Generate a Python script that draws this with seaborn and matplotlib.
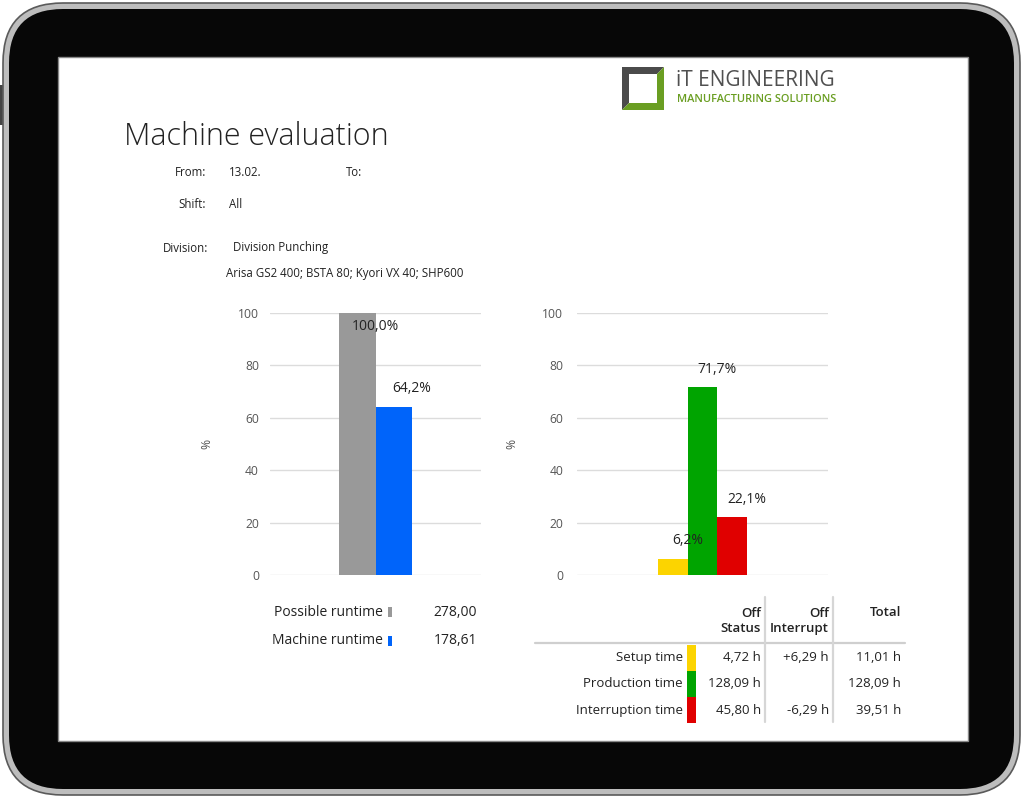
import numpy as np
import pandas as pd
import matplotlib
matplotlib.use("Agg")
import matplotlib.pyplot as plt
import seaborn as sns
from matplotlib.patches import FancyBboxPatch, Rectangle, Polygon

# Left chart: runtime share
runtime_labels = ["Possible runtime", "Machine runtime"]
runtime_pct = [100.0, 64.2]
runtime_hours = [278.00, 178.61]
runtime_colors = ["#999999", "#0064fa"]

# Right chart: split of machine time
time_labels = ["Setup time", "Production time", "Interruption time"]
time_pct = [6.2, 71.7, 22.1]
time_colors = ["#fcd400", "#00a400", "#e00000"]
off_status = [4.72, 128.09, 45.80]
off_interrupt = [6.29, None, -6.29]
time_total = [11.01, 128.09, 39.51]

y_ticks = [0, 20, 40, 60, 80, 100]

W, H = 1024, 798
sns.set_theme(style="white")
plt.rcParams["font.family"] = ["Open Sans", "DejaVu Sans"]

TXT = "#222222"


def de(v, nd=2):
    return f"{v:.{nd}f}".replace(".", ",")


fig = plt.figure(figsize=(W / 100, H / 100), dpi=100)

# tablet frame drawn in pixel coordinates
bg = fig.add_axes([0, 0, 1, 1])
bg.set_xlim(0, W)
bg.set_ylim(H, 0)
bg.axis("off")
bg.add_patch(Rectangle((0, 85), 5, 40, facecolor="#444444", edgecolor="none"))
bg.add_patch(FancyBboxPatch((3, 3), 1017, 792, boxstyle="round,pad=0,rounding_size=60",
                            facecolor="#bdbdbd", edgecolor="#5a5a5a", lw=1.2))
bg.add_patch(FancyBboxPatch((9, 9), 1005, 780, boxstyle="round,pad=0,rounding_size=54",
                            facecolor="#070707", edgecolor="none"))
bg.add_patch(Rectangle((58, 57), 910, 684, facecolor="white", edgecolor="#888888", lw=1))

# logo
dark = [(622, 110), (622, 67), (664, 67), (657, 74), (629, 74), (629, 103)]
green = [(664, 67), (664, 110), (622, 110), (629, 103), (657, 103), (657, 74)]
bg.add_patch(Polygon(dark, closed=True, facecolor="#4b4b4b", edgecolor="none"))
bg.add_patch(Polygon(green, closed=True, facecolor="#6a9e22", edgecolor="none"))
bg.text(676, 80, "iT ENGINEERING", fontsize=15, color="#505050", va="center", ha="left")
bg.text(677, 100, "MANUFACTURING SOLUTIONS", fontsize=7.9, color="#6a9e22",
        va="center", ha="left", fontweight="semibold")

# header block
bg.text(124, 137, "Machine evaluation", fontsize=22, color=TXT, va="center", fontweight="light")
small = dict(fontsize=8.3, color=TXT, va="center")
bg.text(206, 173, "From:", ha="right", **small)
bg.text(229, 173, "13.02.", ha="left", **small)
bg.text(346, 173, "To:", ha="left", **small)
bg.text(206, 204, "Shift:", ha="right", **small)
bg.text(229, 204, "All", ha="left", **small)
bg.text(208, 248, "Division:", ha="right", **small)
bg.text(233, 248, "Division Punching", ha="left", **small)
bg.text(226, 274, "Arisa GS2 400; BSTA 80; Kyori VX 40; SHP600", ha="left", **small)


def px_axes(x0, y0, x1, y1):
    return fig.add_axes([x0 / W, 1 - y1 / H, (x1 - x0) / W, (y1 - y0) / H])


def style_axis(ax, label_x, pad):
    ax.set_ylim(0, 100)
    ax.set_xlim(-0.5, 0.5)
    ax.set_yticks(y_ticks)
    ax.yaxis.grid(True, color="#dcdcdc", lw=1)
    ax.set_axisbelow(True)
    ax.tick_params(axis="y", length=0, pad=pad, labelsize=8.7, labelcolor="#555555")
    ax.set_xticks([])
    ax.set_xlabel("")
    ax.set_ylabel("%", fontsize=8.7, color="#555555")
    ax.yaxis.set_label_coords(label_x, 0.5)
    for s in ax.spines.values():
        s.set_visible(False)
    ax.patch.set_alpha(0)
    for p in ax.patches:
        h = p.get_height()
        if np.isnan(h) or p.get_width() == 0:
            continue
        ax.text(p.get_x() + p.get_width(), min(h + 6.9, 95), de(h, 1) + "%",
                ha="center", va="center", fontsize=10, color=TXT)


df_run = pd.DataFrame({"g": [""] * len(runtime_labels), "pct": runtime_pct, "kind": runtime_labels})
ax1 = px_axes(270, 313, 481, 575)
sns.barplot(data=df_run, x="g", y="pct", hue="kind", palette=runtime_colors,
            width=0.346, saturation=1, legend=False, linewidth=0, ax=ax1)
style_axis(ax1, -0.27, 8)

df_time = pd.DataFrame({"g": [""] * len(time_labels), "pct": time_pct, "kind": time_labels})
ax2 = px_axes(577, 313, 828, 575)
sns.barplot(data=df_time, x="g", y="pct", hue="kind", palette=time_colors,
            width=0.355, saturation=1, legend=False, linewidth=0, ax=ax2)
style_axis(ax2, -0.235, 10)

# runtime legend rows
mid = dict(fontsize=10, color=TXT, va="center")
for i, (lab, hrs, col) in enumerate(zip(runtime_labels, runtime_hours, runtime_colors)):
    y = 612 + i * 29
    bg.text(383, y, lab, ha="right", **mid)
    bg.add_patch(Rectangle((388, y - 5), 4, 10, facecolor=col, edgecolor="none"))
    bg.text(477, y, de(hrs), ha="right", **mid)

# table
tab = dict(fontsize=9.5, color=TXT, va="center")
bg.plot([535, 905], [643, 643], color="#cfcfcf", lw=1.6)
for xv in (765, 833):
    bg.plot([xv, xv], [597, 722], color="#d6d6d6", lw=1.6)
bg.text(761, 621, "Off\nStatus", ha="right", linespacing=1.15, fontweight="semibold", **tab)
bg.text(829, 621, "Off\nInterrupt", ha="right", linespacing=1.15, fontweight="semibold", **tab)
bg.text(901, 613, "Total", ha="right", fontweight="semibold", **tab)
for i, lab in enumerate(time_labels):
    y = 657.5 + i * 26.3
    bg.text(683, y, lab, ha="right", **tab)
    bg.add_patch(Rectangle((687, y - 13), 9, 26, facecolor=time_colors[i], edgecolor="none"))
    bg.text(761, y, de(off_status[i]) + " h", ha="right", **tab)
    if off_interrupt[i] is not None:
        sign = "+" if off_interrupt[i] > 0 else ""
        bg.text(829, y, sign + de(off_interrupt[i]) + " h", ha="right", **tab)
    bg.text(901, y, de(time_total[i]) + " h", ha="right", **tab)

fig.savefig("out.png", dpi=100)
